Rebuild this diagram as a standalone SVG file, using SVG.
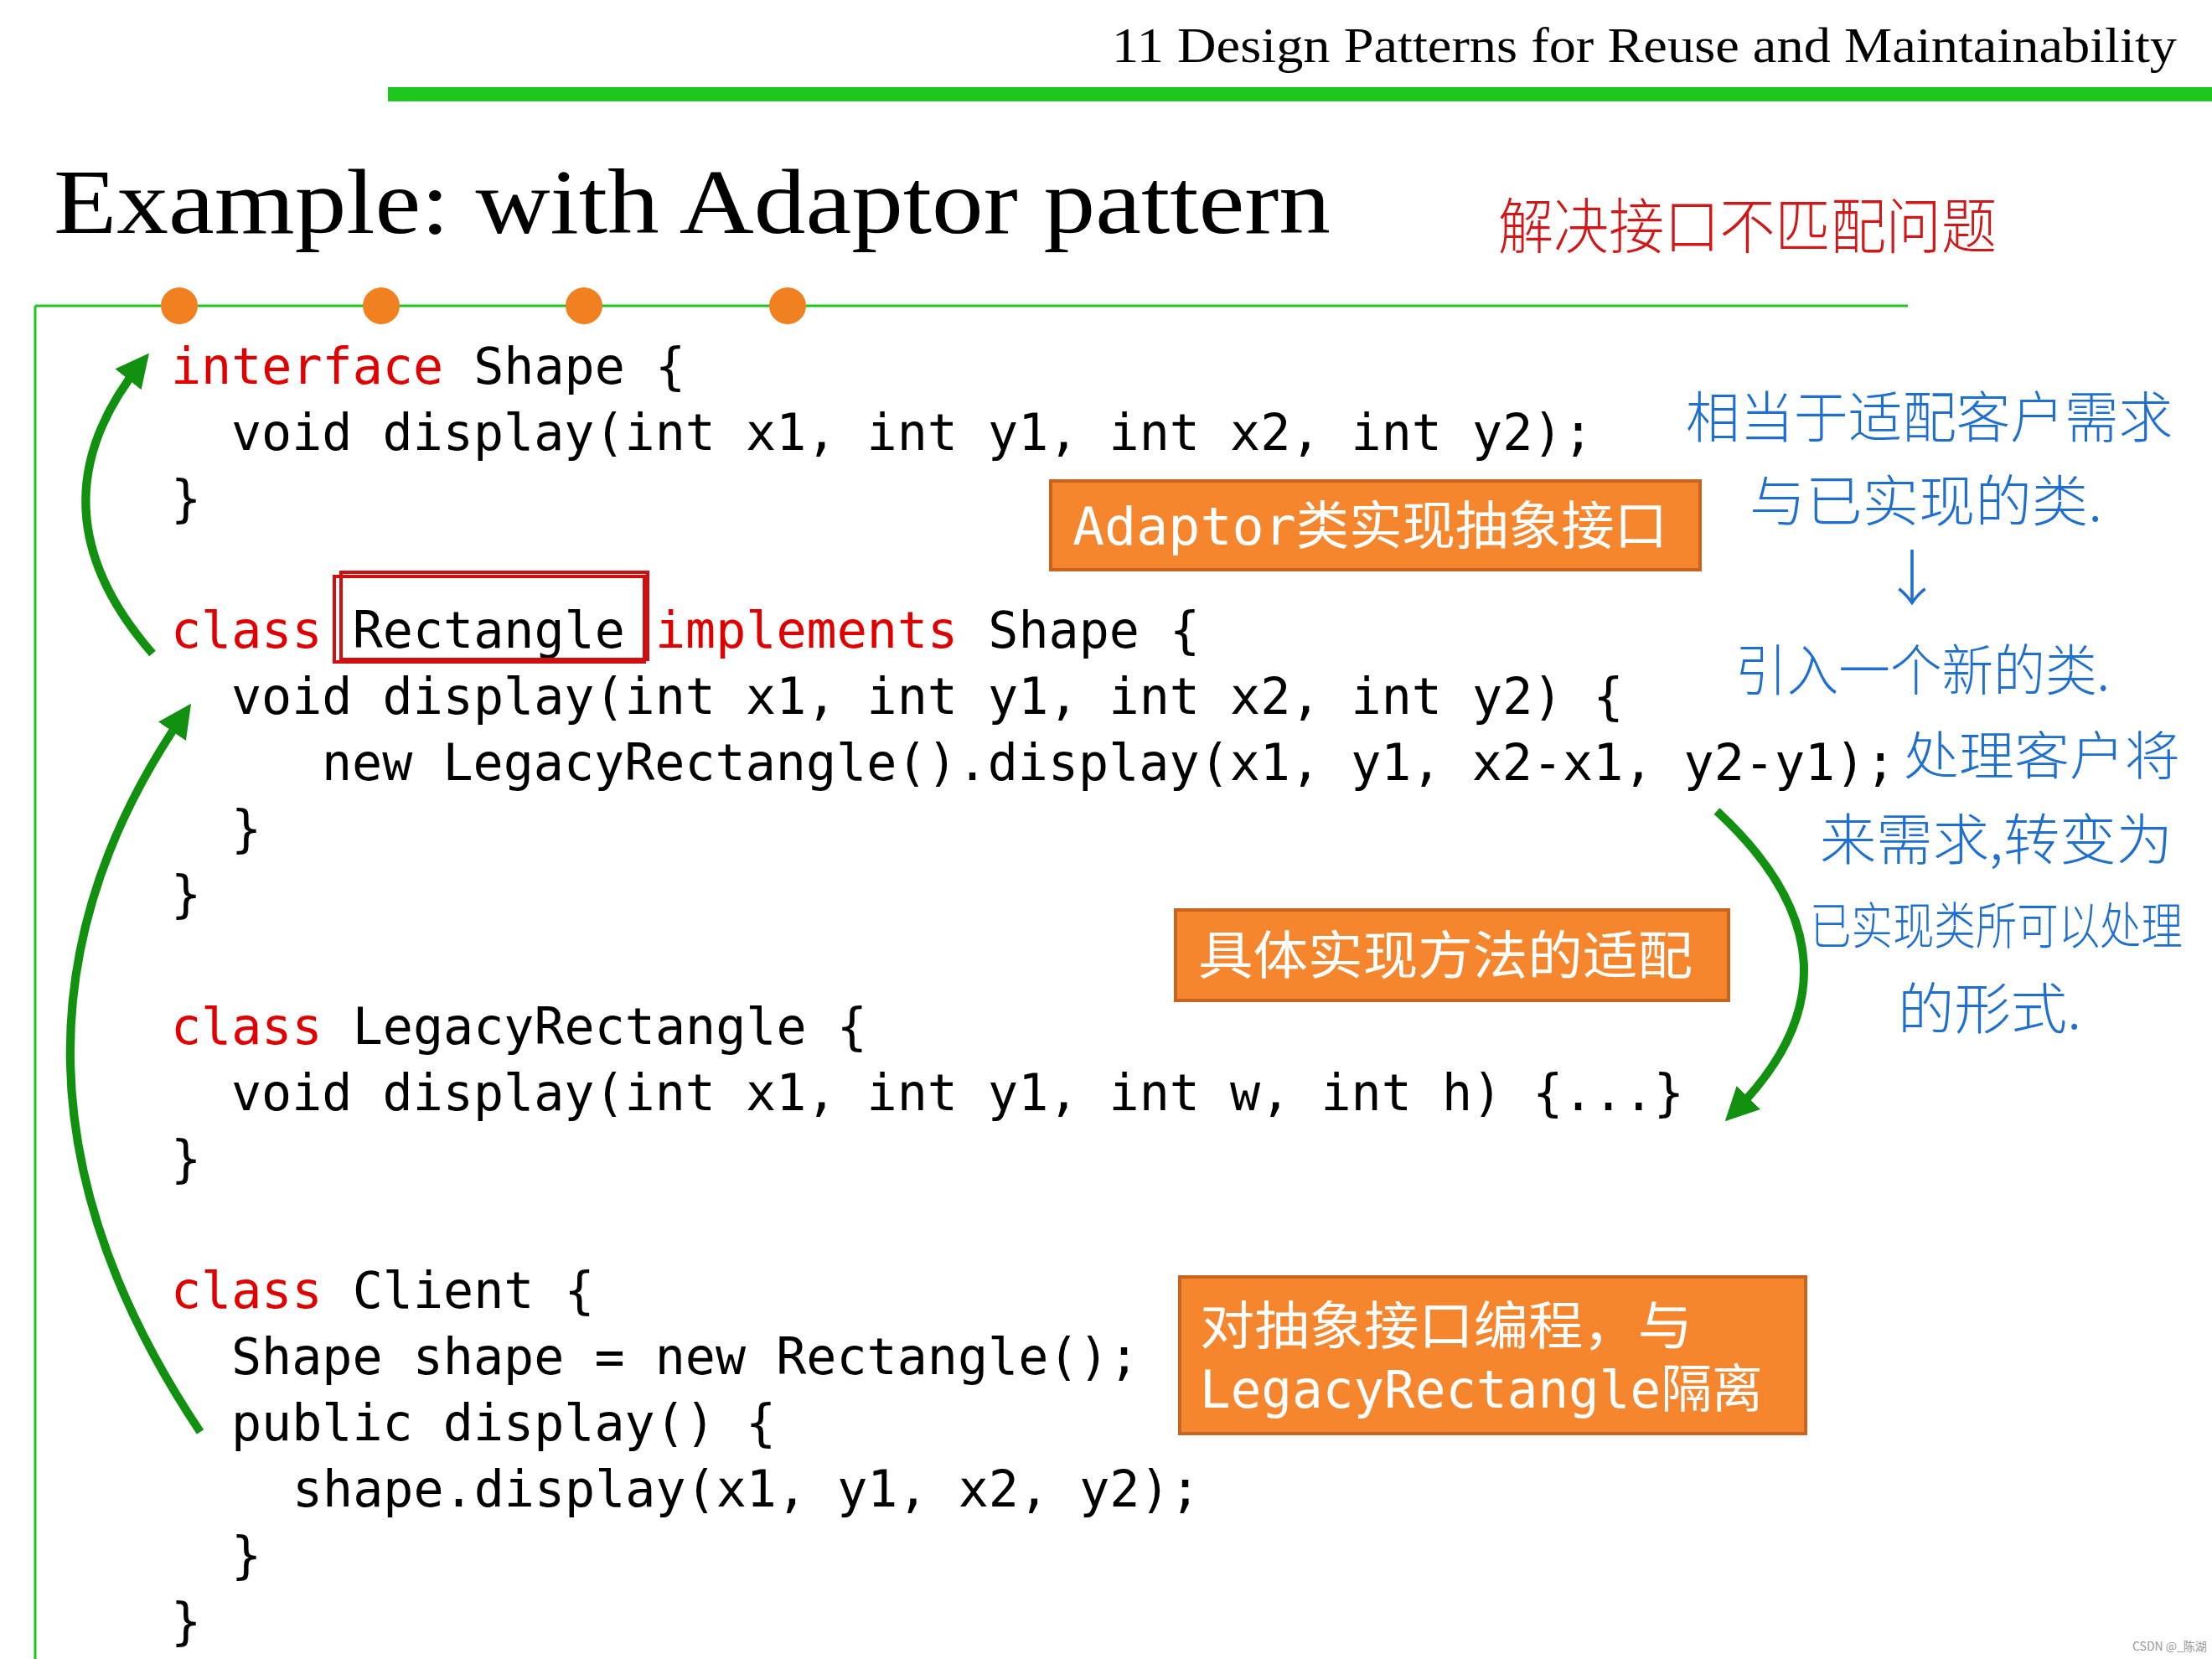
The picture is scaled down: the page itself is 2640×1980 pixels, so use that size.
<svg xmlns="http://www.w3.org/2000/svg" width="2640" height="1980" viewBox="0 0 2640 1980">
<style>
.code{font-family:"DejaVu Sans Mono","Liberation Mono",monospace;font-size:60px;fill:#000;white-space:pre}
.kw{fill:#e00000}
.box{fill:#f5862e;stroke:#c8641e;stroke-width:4}
.bt{font-family:"DejaVu Sans Mono","Noto Sans CJK SC",monospace;font-size:62px;fill:#fff}
.hw{font-family:"Noto Sans CJK SC",sans-serif;fill:#1f6fd0;font-weight:300}
.arr{fill:none;stroke:#12900f;stroke-width:10}
</style>
<defs>
<marker id="ah" viewBox="0 0 10 10" refX="6" refY="5" markerWidth="4" markerHeight="4" orient="auto" markerUnits="strokeWidth">
<path d="M0,0 L10,5 L0,10 Z" fill="#12900f"/>
</marker>
</defs>
<rect width="2640" height="1980" fill="#fff"/>
<g id="header">
<text x="1327" y="74" font-family="Liberation Serif,serif" font-size="60" textLength="1271" lengthAdjust="spacingAndGlyphs">11 Design Patterns for Reuse and Maintainability</text>
<rect x="463" y="104" width="2177" height="17" fill="#1ec81e"/>
<text x="64" y="278" font-family="Liberation Serif,serif" font-size="110" textLength="1524" lengthAdjust="spacingAndGlyphs">Example: with Adaptor pattern</text>
<line x1="42" y1="365" x2="2277" y2="365" stroke="#1ec81e" stroke-width="3"/>
<line x1="42" y1="365" x2="42" y2="1980" stroke="#1ec81e" stroke-width="3"/>
<circle cx="214" cy="365" r="22" fill="#f08020"/>
<circle cx="455" cy="365" r="22" fill="#f08020"/>
<circle cx="697" cy="365" r="22" fill="#f08020"/>
<circle cx="940" cy="365" r="22" fill="#f08020"/>
</g>
<g id="code">
<text class="code" x="204" y="458"><tspan class="kw">interface</tspan> Shape {</text>
<text class="code" x="276" y="537">void display(int x1, int y1, int x2, int y2);</text>
<text class="code" x="204" y="616">}</text>
<text class="code" x="204" y="773"><tspan class="kw">class</tspan> Rectangle <tspan class="kw">implements</tspan> Shape {</text>
<text class="code" x="276" y="852">void display(int x1, int y1, int x2, int y2) {</text>
<text class="code" x="384" y="931">new LegacyRectangle().display(x1, y1, x2-x1, y2-y1);</text>
<text class="code" x="276" y="1010">}</text>
<text class="code" x="204" y="1088">}</text>
<text class="code" x="204" y="1246"><tspan class="kw">class</tspan> LegacyRectangle {</text>
<text class="code" x="276" y="1325">void display(int x1, int y1, int w, int h) {...}</text>
<text class="code" x="204" y="1404">}</text>
<text class="code" x="204" y="1561"><tspan class="kw">class</tspan> Client {</text>
<text class="code" x="276" y="1640">Shape shape = new Rectangle();</text>
<text class="code" x="276" y="1719">public display() {</text>
<text class="code" x="349" y="1798">shape.display(x1, y1, x2, y2);</text>
<text class="code" x="276" y="1877">}</text>
<text class="code" x="204" y="1956">}</text>
</g>
<g id="redbox" fill="none" stroke="#d01010" stroke-width="4">
<rect x="399" y="688" width="370" height="102"/>
<rect x="407" y="683" width="366" height="104"/>
</g>
<g id="box1"><rect class="box" x="1254" y="574" width="775" height="106"/><text class="bt" x="1280" y="650" textLength="710" lengthAdjust="spacingAndGlyphs">Adaptor类实现抽象接口</text></g>
<g id="box2"><rect class="box" x="1403" y="1086" width="660" height="108"/><text class="bt" x="1430" y="1163" textLength="590" lengthAdjust="spacingAndGlyphs">具体实现方法的适配</text></g>
<g id="box3"><rect class="box" x="1408" y="1524" width="747" height="187"/><text class="bt" x="1432" y="1605" textLength="588" lengthAdjust="spacingAndGlyphs">对抽象接口编程，与</text><text class="bt" x="1432" y="1680" textLength="672" lengthAdjust="spacingAndGlyphs">LegacyRectangle隔离</text></g>
<g id="connectors">
<path class="arr" d="M182,780 Q30,606 168,434" marker-end="url(#ah)"/>
<path class="arr" d="M239,1709 Q-61,1260 219,853" marker-end="url(#ah)"/>
<path class="arr" d="M2049,968 Q2246,1150 2070,1327" marker-end="url(#ah)"/>
</g>
<g id="notes">
<text x="1788" y="296" font-family="Noto Sans CJK SC,sans-serif" font-size="72" fill="#d01818" font-weight="300" textLength="595" lengthAdjust="spacingAndGlyphs">解决接口不匹配问题</text>
<text class="hw" x="2012" y="522" font-size="66" textLength="581" lengthAdjust="spacingAndGlyphs">相当于适配客户需求</text>
<text class="hw" x="2088" y="622" font-size="66" textLength="421" lengthAdjust="spacingAndGlyphs">与已实现的类.</text>
<text class="hw" x="2282" y="716" font-size="72" text-anchor="middle">↓</text>
<text class="hw" x="2071" y="824" font-size="66" textLength="447" lengthAdjust="spacingAndGlyphs">引入一个新的类.</text>
<text class="hw" x="2272" y="925" font-size="62" textLength="330" lengthAdjust="spacingAndGlyphs">处理客户将</text>
<text class="hw" x="2172" y="1026" font-size="66" textLength="421" lengthAdjust="spacingAndGlyphs">来需求,转变为</text>
<text class="hw" x="2160" y="1127" font-size="60" textLength="445" lengthAdjust="spacingAndGlyphs">已实现类所可以处理</text>
<text class="hw" x="2265" y="1228" font-size="66" textLength="219" lengthAdjust="spacingAndGlyphs">的形式.</text>
<text x="2545" y="1970" font-family="Noto Sans CJK SC,sans-serif" font-size="14" fill="#999">CSDN @_陈湖</text>
</g>
</svg>
